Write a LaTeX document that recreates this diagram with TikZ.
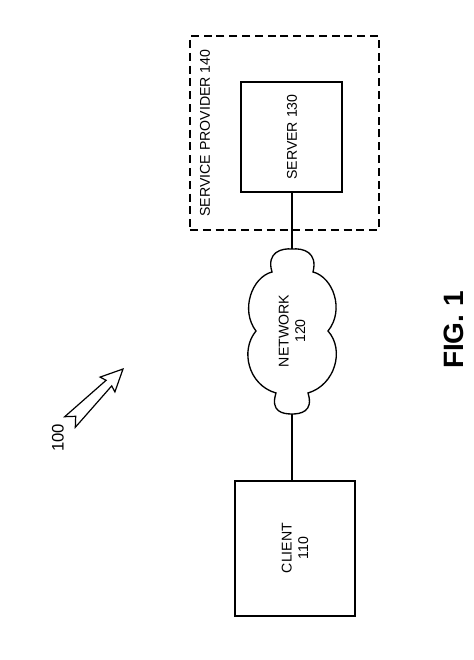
\documentclass[tikz,border=0pt]{standalone}
\usepackage{fontspec}
\setmainfont{Liberation Sans}
\usetikzlibrary{fit}
\begin{document}
\begin{tikzpicture}[x={(0.75pt,0)},y={(0,-0.75pt)},
  line width=1pt,
  box/.style={draw,inner sep=0pt},
  dashbox/.style={draw,inner sep=0pt,dash pattern=on 6pt off 3.6pt},
  lbl/.style={rotate=90,font=\fontsize{10.6}{12.2}\selectfont,inner sep=0pt,align=center},
  wire/.style={draw,line width=1pt}]
\useasboundingbox (0,0) rectangle (474,660);
% service provider
\coordinate (spa) at (190,36);
\coordinate (spb) at (379,230);
\node[dashbox,fit=(spa)(spb)] (provider) {};
\node[lbl] (providerlbl) at (205,133) {SERVICE PROVIDER 140};
% server
\coordinate (sva) at (241,82);
\coordinate (svb) at (342,192);
\node[box,fit=(sva)(svb)] (server) {};
\node[lbl] (serverlbl) at (292,137) {SERVER 130};
% client
\coordinate (cla) at (235,481);
\coordinate (clb) at (355,616);
\node[box,fit=(cla)(clb)] (client) {};
\node[lbl] (clientlbl) at (295,548) {CLIENT\\110};
% network cloud
\coordinate (cloudtop) at (292,249);
\coordinate (cloudbot) at (292,414);
\draw (272,272) .. controls (266,252) and (282,248) .. (cloudtop)
  .. controls (303,248) and (318,252) .. (313,272)
  .. controls (333,277) and (345,310) .. (328,331)
  .. controls (345,350) and (335,385) .. (308,393)
  .. controls (314,412) and (300,414) .. (cloudbot)
  .. controls (283,414) and (270,412) .. (276,393)
  .. controls (248,385) and (240,350) .. (256,331)
  .. controls (240,310) and (252,277) .. (272,272) -- cycle;
\node[lbl] (network) at (292,331) {NETWORK\\120};
% connectors
\draw[wire] (server.south -| cloudtop) -- (cloudtop);
\draw[wire] (cloudbot) -- (client.north -| cloudbot);
% reference arrow 100
\node[lbl,font=\fontsize{12.5}{14}\selectfont] (ref) at (58,438) {100};
\draw[line width=0.9pt,line join=miter] (75.3,427.3) -- (111.7,385.9) -- (114.9,391.9) -- (123,369)
  -- (100.1,377.1) -- (106.1,380.3) -- (64.7,416.7) -- (75.7,416.3) -- cycle;
% figure label
\node[rotate=90,font=\fontsize{21}{24}\selectfont\bfseries,inner sep=0pt] (fig) at (454,330) {FIG. 1};
\end{tikzpicture}
\end{document}
